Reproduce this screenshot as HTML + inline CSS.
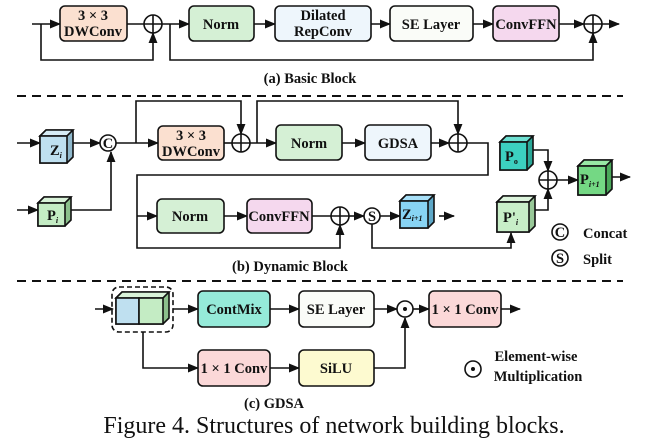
<!DOCTYPE html>
<html><head><meta charset="utf-8"><style>
body{margin:0;background:#fff;width:658px;height:439px;overflow:hidden}
text{font-family:"Liberation Serif",serif;font-weight:bold;font-size:14.5px;fill:#111}
</style></head><body>
<svg width="658" height="439" viewBox="0 0 658 439" xmlns="http://www.w3.org/2000/svg">
<defs>
<marker id="a" viewBox="0 0 10 10" refX="9" refY="5" markerWidth="7" markerHeight="7" orient="auto"><path d="M0,1 L10,5 L0,9 z" fill="#111"/></marker>
</defs>
<g stroke="#111" stroke-width="1.6" fill="none">
<path d="M32,24 H60" marker-end="url(#a)"/>
<path d="M41,24 V60 H153 V33" marker-end="url(#a)"/>
<path d="M127,24 H144"/>
<path d="M162,24 H189" marker-end="url(#a)"/>
<path d="M170,24 V60 H593 V33" marker-end="url(#a)"/>
<path d="M254,24 H275" marker-end="url(#a)"/>
<path d="M371,24 H390" marker-end="url(#a)"/>
<path d="M473,24 H493" marker-end="url(#a)"/>
<path d="M559,24 H584" marker-end="url(#a)"/>
<path d="M602,24 H619" marker-end="url(#a)"/>
<path d="M17,143 H40" marker-end="url(#a)"/>
<path d="M72,143 H100" marker-end="url(#a)"/>
<path d="M17,210 H38" marker-end="url(#a)"/>
<path d="M70,210 H111 V152" marker-end="url(#a)"/>
<path d="M116,143 H158" marker-end="url(#a)"/>
<path d="M136,143 V101 H241 V134" marker-end="url(#a)"/>
<path d="M224,143 H232"/>
<path d="M250,143 H276" marker-end="url(#a)"/>
<path d="M257,143 V101 H458 V134" marker-end="url(#a)"/>
<path d="M342,143 H365" marker-end="url(#a)"/>
<path d="M431,143 H449" marker-end="url(#a)"/>
<path d="M467,143 H488 V175 H137 V248 H340 V225" marker-end="url(#a)"/>
<path d="M137,216 H157" marker-end="url(#a)"/>
<path d="M224,216 H247" marker-end="url(#a)"/>
<path d="M312,216 H331"/>
<path d="M349,216 H364" marker-end="url(#a)"/>
<path d="M380,216 H400" marker-end="url(#a)"/>
<path d="M439,216 H454" marker-end="url(#a)"/>
<path d="M372,224 V248 H511 V233" marker-end="url(#a)"/>
<path d="M533,150 H548 V171" marker-end="url(#a)"/>
<path d="M535,210 H548 V189" marker-end="url(#a)"/>
<path d="M557,180 H578" marker-end="url(#a)"/>
<path d="M612,177 H630" marker-end="url(#a)"/>
<path d="M95,309 H113" marker-end="url(#a)"/>
<path d="M173,309 H198" marker-end="url(#a)"/>
<path d="M270,309 H299" marker-end="url(#a)"/>
<path d="M374,309 H397" marker-end="url(#a)"/>
<path d="M413,309 H429" marker-end="url(#a)"/>
<path d="M501,309 H520" marker-end="url(#a)"/>
<path d="M143,332 V368 H198" marker-end="url(#a)"/>
<path d="M270,368 H299" marker-end="url(#a)"/>
<path d="M374,368 H405 V318" marker-end="url(#a)"/>
</g>
<g stroke="#111" stroke-width="2" stroke-dasharray="9,6">
<line x1="17" y1="96" x2="623" y2="96"/>
<line x1="17" y1="281" x2="623" y2="281"/>
</g>
<g stroke="#111" stroke-width="1.6">
<rect x="60" y="6" width="67" height="35" rx="5" fill="#fbe0d0"/>
<rect x="189" y="6" width="65" height="35" rx="5" fill="#d5f0d5"/>
<rect x="275" y="6" width="96" height="35" rx="5" fill="#eef6fc"/>
<rect x="390" y="6" width="83" height="35" rx="5" fill="#fafcf8"/>
<rect x="493" y="6" width="66" height="35" rx="5" fill="#f5d8ee"/>
<rect x="158" y="126" width="66" height="34" rx="5" fill="#fbe0d0"/>
<rect x="276" y="125" width="66" height="35" rx="5" fill="#d5f0d5"/>
<rect x="365" y="125" width="66" height="35" rx="5" fill="#eef6fc"/>
<rect x="157" y="199" width="67" height="34" rx="5" fill="#d5f0d5"/>
<rect x="247" y="199" width="65" height="34" rx="5" fill="#f5d8ee"/>
<rect x="198" y="291" width="72" height="36" rx="5" fill="#95ead9"/>
<rect x="299" y="291" width="75" height="36" rx="5" fill="#fafcf8"/>
<rect x="429" y="291" width="72" height="36" rx="5" fill="#fbd8d8"/>
<rect x="198" y="350" width="72" height="36" rx="5" fill="#fbd8d8"/>
<rect x="299" y="350" width="75" height="36" rx="5" fill="#fdfad0"/>
</g>
<g stroke="#111" stroke-width="1.6" fill="#fff">
<circle cx="153" cy="24" r="9"/><path d="M144,24 H162 M153,15 V33"/>
<circle cx="593" cy="24" r="9"/><path d="M584,24 H602 M593,15 V33"/>
<circle cx="241" cy="143" r="9"/><path d="M232,143 H250 M241,134 V152"/>
<circle cx="458" cy="143" r="9"/><path d="M449,143 H467 M458,134 V152"/>
<circle cx="340" cy="216" r="9"/><path d="M331,216 H349 M340,207 V225"/>
<circle cx="548" cy="180" r="9"/><path d="M539,180 H557 M548,171 V189"/>
<circle cx="108" cy="143" r="8"/>
<circle cx="372" cy="216" r="8"/>
<circle cx="560" cy="232" r="8"/>
<circle cx="560" cy="258" r="8"/>
<circle cx="405" cy="309" r="8"/>
<circle cx="473" cy="369" r="8"/>
</g>
<circle cx="405" cy="309" r="2" fill="#111"/>
<circle cx="473" cy="369" r="2" fill="#111"/>
<g stroke="#111" stroke-width="1.6">
<path d="M40,136 L46,130 H73 V157 L67,163 H40 Z" fill="#8fb8cc"/><path d="M40,136 L46,130 H73 L67,136 Z" fill="#d6ecf6"/><rect x="40" y="136" width="27" height="27" fill="#bfe0f0"/>
<path d="M38,203 L44,197 H71 V220 L65,226 H38 Z" fill="#8cc08c"/><path d="M38,203 L44,197 H71 L65,203 Z" fill="#d8f2d8"/><rect x="38" y="203" width="27" height="23" fill="#c4ecc4"/>
<path d="M400,201 L406,195 H434 V222 L428,228 H400 Z" fill="#5ea8c8"/><path d="M400,201 L406,195 H434 L428,201 Z" fill="#a8e0f8"/><rect x="400" y="201" width="28" height="27" fill="#88d4f4"/>
<path d="M500,142 L506,136 H533 V164 L527,170 H500 Z" fill="#2aa898"/><path d="M500,142 L506,136 H533 L527,142 Z" fill="#6ee0d2"/><rect x="500" y="142" width="27" height="28" fill="#3cd0c0"/>
<path d="M497,202 L503,196 H535 V226 L529,232 H497 Z" fill="#98c898"/><path d="M497,202 L503,196 H535 L529,202 Z" fill="#dcf4dc"/><rect x="497" y="202" width="32" height="30" fill="#c8eec8"/>
<path d="M578,166 L584,160 H612 V189 L606,195 H578 Z" fill="#4aa85a"/><path d="M578,166 L584,160 H612 L606,166 Z" fill="#98e8a4"/><rect x="578" y="166" width="28" height="29" fill="#74d884"/>
<path d="M116,298 L122,292 H169 V318 L163,324 H116 Z" fill="#8cc08c"/><path d="M116,298 L122,292 H169 L163,298 Z" fill="#d8f2d8"/>
<rect x="116" y="298" width="23" height="26" fill="#bfe0f0"/><rect x="139" y="298" width="24" height="26" fill="#c4ecc4"/>
</g>
<rect x="112" y="287" width="61" height="45" rx="7" fill="none" stroke="#111" stroke-width="1.6" stroke-dasharray="5,3"/>
<g text-anchor="middle">
<text x="93" y="20">3 × 3</text><text x="93" y="36">DWConv</text>
<text x="221" y="29">Norm</text>
<text x="323" y="20">Dilated</text><text x="323" y="36">RepConv</text>
<text x="431" y="29">SE Layer</text>
<text x="526" y="29">ConvFFN</text>
<text x="310" y="83" font-size="15.5">(a) Basic Block</text>
<text x="191" y="140">3 × 3</text><text x="191" y="156">DWConv</text>
<text x="309" y="148">Norm</text>
<text x="398" y="148">GDSA</text>
<text x="190" y="221">Norm</text>
<text x="279" y="221">ConvFFN</text>
<text x="108" y="148" font-size="13">C</text>
<text x="372" y="221" font-size="13">S</text>
<text x="560" y="237" font-size="13">C</text>
<text x="560" y="263" font-size="13">S</text>
<text x="290" y="271" font-size="15.5">(b) Dynamic Block</text>
<text x="234" y="314">ContMix</text>
<text x="336" y="314">SE Layer</text>
<text x="465" y="314">1 × 1 Conv</text>
<text x="234" y="373">1 × 1 Conv</text>
<text x="336" y="373">SiLU</text>
<text x="274" y="408" font-size="15.5">(c) GDSA</text>
</g>
<text x="50" y="155" font-size="13">Z<tspan font-size="8" font-style="italic" dy="3">i</tspan></text>
<text x="47" y="220" font-size="13">P<tspan font-size="8" font-style="italic" dy="3">i</tspan></text>
<text x="402" y="219" font-size="13">Z<tspan font-size="8" font-style="italic" dy="2">i+1</tspan></text>
<text x="505" y="161" font-size="13">P<tspan font-size="8" dy="3">o</tspan></text>
<text x="503" y="222" font-size="13">P'<tspan font-size="8" font-style="italic" dy="3">i</tspan></text>
<text x="580" y="184" font-size="13">P<tspan font-size="8" font-style="italic" dy="3">i+1</tspan></text>
<text x="583" y="238" font-size="16">Concat</text>
<text x="583" y="264" font-size="16">Split</text>
<text x="536" y="361" font-size="16" text-anchor="middle">Element-wise</text>
<text x="538" y="381" font-size="16" text-anchor="middle">Multiplication</text>
<text x="334" y="433" text-anchor="middle" style="font-weight:normal;font-size:24px">Figure 4. Structures of network building blocks.</text>
</svg>
</body></html>
